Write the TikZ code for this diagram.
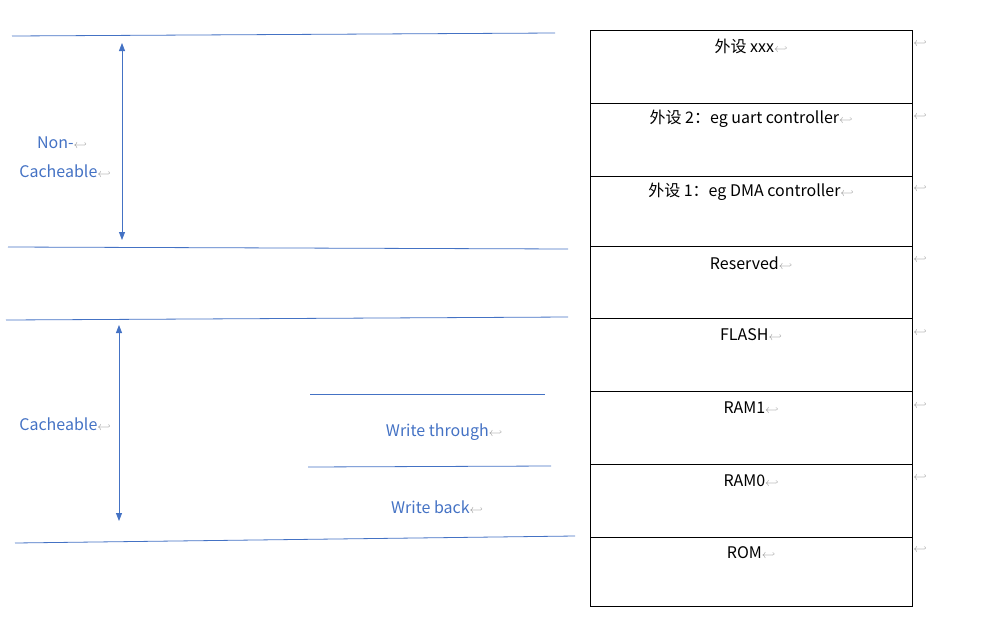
\documentclass[tikz,border=0pt]{standalone}
\usepackage{fontspec}
\setmainfont{Noto Sans CJK SC}
\newfontfamily\cjk{Noto Sans CJK SC}
\usetikzlibrary{arrows.meta}
\definecolor{wblue}{HTML}{4472C4}
\definecolor{pmark}{HTML}{9A9A9A}
\newcommand{\parmk}{{\color{pmark}\fontsize{13}{13}\selectfont$\hookleftarrow$}}
\begin{document}
\begin{tikzpicture}[x=1pt,y=-1pt,
  every node/.style={font=\fontsize{16}{19}\selectfont, inner sep=0pt},
  rowbox/.style={draw=black, line width=0.7pt},
  bline/.style={draw=wblue, line width=0.8pt},
  barrow/.style={draw=wblue, line width=0.8pt, {Triangle[length=8pt,width=6pt]}-{Triangle[length=8pt,width=6pt]}},
  blab/.style={text=wblue},
  mk/.style={text=pmark}]
\useasboundingbox (0,0) rectangle (988,635);
% table
\foreach \ya/\yb [count=\i] in {30/103,103/176,176/246,246/318,318/391,391/464,464/537,537/606}{
  \draw[rowbox] (590,\ya) rectangle (912,\yb);
}
\node (t1) at (751,46) {{\cjk 外设} xxx\parmk};
\node (t2) at (751,119) {{\cjk 外设 2：}eg uart controller\parmk};
\node (t3) at (751,192) {{\cjk 外设 1：}eg DMA controller\parmk};
\node (t4) at (751,263) {Reserved\parmk};
\node (t5) at (751,335) {FLASH\parmk};
\node (t6) at (751,408) {RAM1\parmk};
\node (t7) at (751,481) {RAM0\parmk};
\node (t8) at (751,553) {ROM\parmk};
\foreach \y [count=\i] in {44,117,189,260,333,406,478,550}
  \node[mk] (m\i) at (920,\y) {\parmk};
% lines
\coordinate (l1a) at (12,36); \coordinate (l1b) at (555,33);
\coordinate (l2a) at (8,247); \coordinate (l2b) at (568,249);
\coordinate (l3a) at (6,320); \coordinate (l3b) at (568,317);
\coordinate (l4a) at (15,543); \coordinate (l4b) at (575,536);
\coordinate (w1a) at (310,394); \coordinate (w1b) at (545,394);
\coordinate (w2a) at (308,467); \coordinate (w2b) at (551,466);
\draw[bline] (l1a) -- (l1b);
\draw[bline] (l2a) -- (l2b);
\draw[bline] (l3a) -- (l3b);
\draw[bline] (l4a) -- (l4b);
\draw[bline] (w1a) -- (w1b);
\draw[bline] (w2a) -- (w2b);
% arrows
\coordinate (a1a) at (122,43); \coordinate (a1b) at (122,240);
\coordinate (a2a) at (119,325); \coordinate (a2b) at (119,521);
\draw[barrow] (a1a) -- (a1b);
\draw[barrow] (a2a) -- (a2b);
% labels
\node[blab] (nc1) at (62,143) {Non-\parmk};
\node[blab] (nc2) at (65,171) {Cacheable\parmk};
\node[blab] (c1) at (65,424) {Cacheable\parmk};
\node[blab] (wt) at (444,432) {Write through\parmk};
\node[blab] (wb) at (437,507) {Write back\parmk};
\end{tikzpicture}
\end{document}
